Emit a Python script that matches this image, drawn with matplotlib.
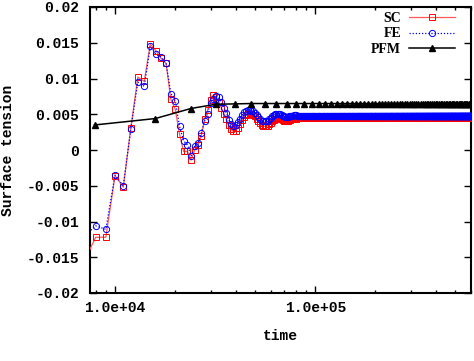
import numpy as np
import matplotlib
matplotlib.use("Agg")
import matplotlib.pyplot as plt

# ---------------- data ----------------
# SC and FE sampled every 1000 time units starting at 7000
time_sc = np.arange(7000, 601000, 1000)

sc_head = [-0.0157, -0.0122, -0.0122, -0.0036, -0.0052, 0.0031, 0.0102, 0.0096,
           0.0148, 0.0139, 0.0128, 0.0121, 0.0071, 0.0057, 0.0022, -0.0002,
           -0.0002, -0.0014, 0.0000, 0.0007, 0.0020, 0.0043, 0.0056, 0.0070,
           0.0077, 0.0074, 0.0067, 0.0059, 0.0051, 0.0043, 0.0035, 0.0029,
           0.0026, 0.0027, 0.0031, 0.0036, 0.0042, 0.0046, 0.0049, 0.0051,
           0.0051, 0.0050, 0.0049, 0.0047, 0.0044, 0.0041, 0.0038, 0.0035,
           0.0033, 0.0033, 0.0033, 0.0034, 0.0036, 0.0038, 0.0040, 0.0042,
           0.0043, 0.0044, 0.0045, 0.0045, 0.0044, 0.0043, 0.0042, 0.0041,
           0.0041, 0.0041, 0.0041, 0.0042, 0.0042, 0.0043, 0.0044, 0.0044,
           0.0044, 0.0044]
fe_head = [-0.0121, -0.0106, -0.0111, -0.0035, -0.0050, 0.0030, 0.0095, 0.0089,
           0.0145, 0.0134, 0.0130, 0.0121, 0.0079, 0.0069, 0.0033, 0.0013,
           0.0007, -0.0008, 0.0005, 0.0010, 0.0024, 0.0040, 0.0051, 0.0066,
           0.0072, 0.0075, 0.0074, 0.0067, 0.0059, 0.0052, 0.0042, 0.0036,
           0.0033, 0.0035, 0.0039, 0.0044, 0.0049, 0.0053, 0.0055, 0.0056,
           0.0056, 0.0055, 0.0054, 0.0052, 0.0049, 0.0046, 0.0043, 0.0041,
           0.0040, 0.0040, 0.0040, 0.0041, 0.0043, 0.0045, 0.0047, 0.0049,
           0.0050, 0.0051, 0.0051, 0.0051, 0.0050, 0.0049, 0.0048, 0.0047,
           0.0046, 0.0046, 0.0046, 0.0047, 0.0047, 0.0048, 0.0048, 0.0049,
           0.0049, 0.0049]
n_tail = len(time_sc) - len(sc_head)
sc_tail = [0.00443] * n_tail      # plateau
fe_tail = [0.00478] * n_tail      # plateau
sc_values = sc_head + sc_tail
fe_values = fe_head + fe_tail

# PFM sampled every 8000 time units
time_pfm = np.arange(7900, 600000, 8000)
pfm_head = [0.0035, 0.0044, 0.0058, 0.0064, 0.00645]
pfm_tail = [0.0065] * (len(time_pfm) - len(pfm_head))
pfm_values = pfm_head + pfm_tail

xticks = [1e4, 1e5]
xtick_labels = ["1.0e+04", "1.0e+05"]
yticks = [-0.02, -0.015, -0.01, -0.005, 0.0, 0.005, 0.01, 0.015, 0.02]
ytick_labels = ["-0.02", "-0.015", "-0.01", "-0.005", "0", "0.005", "0.01", "0.015", "0.02"]

# ---------------- figure ----------------
W, H = 474, 361
fig = plt.figure(figsize=(W / 100, H / 100), dpi=100)
ax = fig.add_axes([90 / W, 1 - 293 / H, (471 - 90) / W, (293 - 7) / H])

mono = "Liberation Mono"
serif = "Liberation Serif"

ax.plot(time_sc, sc_values, color=(1.0, 0.35, 0.35), lw=0.9, ls="-",
        marker="s", ms=4.3, mfc="none", mec="red", mew=0.7, label="SC", zorder=3)
ax.plot(time_sc, fe_values, color="blue", lw=0.9, ls=(0, (1, 1.5)),
        marker="o", ms=4.5, mfc="none", mec="blue", mew=0.7, label="FE", zorder=4)
ax.plot(time_pfm, pfm_values, color="black", lw=1.1, ls="-",
        marker="^", ms=4.5, mfc="black", mec="black", label="PFM", zorder=5)

ax.set_xscale("log")
ax.set_xlim(7500, 6.0e5)
ax.set_ylim(-0.02, 0.02)

ax.set_xticks(xticks)
ax.set_xticklabels(xtick_labels)
ax.xaxis.set_minor_formatter(matplotlib.ticker.NullFormatter())
ax.set_yticks(yticks)
ax.set_yticklabels(ytick_labels)

ax.tick_params(which="both", direction="in", top=True, right=True, width=1.0)
ax.tick_params(which="major", length=5)
ax.tick_params(which="minor", length=2.5)
ax.tick_params(axis="x", pad=6)
ax.tick_params(axis="y", pad=8)
for lab in ax.get_xticklabels() + ax.get_yticklabels():
    lab.set_fontfamily(mono)
    lab.set_fontweight("bold")
    lab.set_fontsize(10.5)

for sp in ax.spines.values():
    sp.set_linewidth(1.5)

ax.set_xlabel("time", fontfamily=mono, fontweight="bold", fontsize=10.5, labelpad=10)
ax.set_ylabel("Surface tension", fontfamily=mono, fontweight="bold", fontsize=10.5)
ax.yaxis.set_label_coords(-0.196, 0.5)

leg = ax.legend(loc="upper right", bbox_to_anchor=(0.99, 1.025), frameon=False,
                markerfirst=False, handlelength=3.3, handletextpad=0.55,
                labelspacing=0.15, prop={"family": serif, "weight": "bold", "size": 10})

fig.savefig("out.png", dpi=100)
